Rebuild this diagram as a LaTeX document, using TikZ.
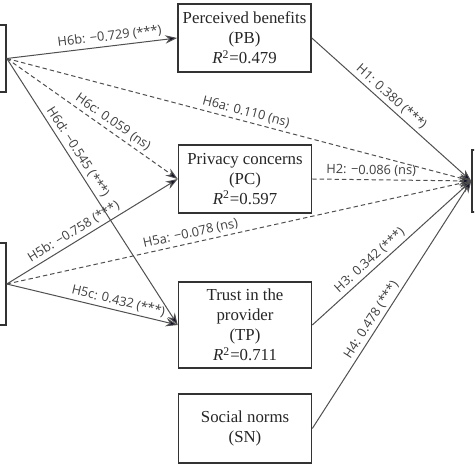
\documentclass[tikz,border=0pt]{standalone}
\usepackage{fontspec}
\setmainfont{Liberation Serif}
\newfontfamily\lblfont{Open Sans}
\usetikzlibrary{arrows.meta}
\definecolor{linegray}{HTML}{505050}
\definecolor{boxline}{HTML}{333333}
\definecolor{tipnavy}{HTML}{10102A}
\tikzset{
	construct/.style={draw=boxline, line width=0.8pt, align=center, text=black!85,
		font=\fontsize{8.4}{10}\selectfont, minimum width=66.5pt, inner sep=1pt},
	path/.style={draw=linegray, line width=0.5pt, ->},
	nspath/.style={path, dash pattern=on 2.2pt off 1.5pt},
	lbl/.style={font=\lblfont\fontsize{6.4}{7}\selectfont, text=black!75, sloped, above, inner sep=1.5pt}
}
\begin{document}
\begin{tikzpicture}[x=0.5pt, y=-0.5pt, >={Stealth[length=6pt,width=4.2pt,fill=tipnavy]}]
	\clip (0,0) rectangle (474,474);
	\fill[white] (0,0) rectangle (474,474);
	% constructs
	\node (L1) at (-30,58.5)  [construct, minimum width=36pt, minimum height=33.5pt] {};
	\node (L2) at (-30,284)   [construct, minimum width=36pt, minimum height=41pt] {};
	\node (PB) at (244.5,38)  [construct, minimum height=34pt] {Perceived benefits\\(PB)\\\textit{R}\textsuperscript{2}=0.479};
	\node (PC) at (245,179)   [construct, minimum height=34pt] {Privacy concerns\\(PC)\\\textit{R}\textsuperscript{2}=0.597};
	\node (TP) at (245,325)   [construct, minimum height=43pt] {Trust in the\\provider\\(TP)\\\textit{R}\textsuperscript{2}=0.711};
	\node (SN) at (245,428.5) [construct, minimum height=34.5pt] {Social norms\\(SN)};
	\node (DV) at (506,181)   [construct, minimum width=34pt, minimum height=31pt] {};
	% paths from first exogenous construct
	\draw[path]   (L1.east) -- node[lbl, pos=0.61] {H6b: −0.729 (***)} (PB.west);
	\draw[nspath] (L1.east) -- node[lbl, pos=0.51] {H6a: 0.110 (ns)} (DV.west);
	\draw[nspath] (L1.east) -- node[lbl, pos=0.59] {H6c: 0.059 (ns)} (PC.west);
	\draw[path]   (L1.east) -- node[lbl, pos=0.37] {H6d: −0.545 (***)} (TP.west);
	% paths from second exogenous construct
	\draw[path]   (L2.east) -- node[lbl, pos=0.42] {H5b: −0.758 (***)} (PC.west);
	\draw[nspath] (L2.east) -- node[lbl, pos=0.40] {H5a: −0.078 (ns)} (DV.west);
	\draw[path]   (L2.east) -- node[lbl, pos=0.64] {H5c: 0.432 (***)} (TP.west);
	% paths to the outcome
	\draw[path]   (PB.east) -- node[lbl, pos=0.46] {H1: 0.380 (***)} (DV.west);
	\draw[nspath] (PC.east) -- node[lbl, pos=0.37] {H2: −0.086 (ns)} (DV.west);
	\draw[path]   (TP.east) -- node[lbl, pos=0.40] {H3: 0.342 (***)} (DV.west);
	\draw[path]   (SN.east) -- node[lbl, pos=0.42] {H4: 0.478 (***)} (DV.west);
\end{tikzpicture}
\end{document}
